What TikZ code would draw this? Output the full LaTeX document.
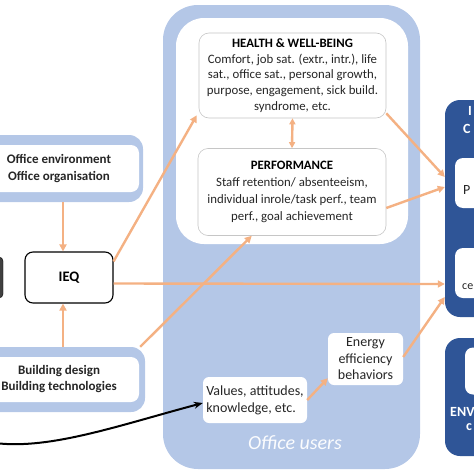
\documentclass[tikz,border=0pt]{standalone}
\usepackage{fontspec}
\setmainfont{Carlito}
\usetikzlibrary{arrows.meta}
\definecolor{lblue}{HTML}{B4C7E7}
\definecolor{dblue}{HTML}{2F5597}
\definecolor{orng}{HTML}{F4B183}
\definecolor{txt}{HTML}{262626}
\tikzset{
  container/.style={fill=lblue, draw=none, rounded corners=#1, inner sep=0pt},
  container/.default=14pt,
  whitebox/.style={fill=white, draw=none, rounded corners=#1, inner sep=0pt, text=txt},
  whitebox/.default=8pt,
  outbox/.style={fill=white, draw=gray!45, line width=0.6pt, rounded corners=10pt, inner sep=0pt, text=txt, align=center},
  darkbox/.style={fill=dblue, draw=none, rounded corners=15pt, inner sep=0pt},
  oarrow/.style={draw=orng, line width=2.4pt, -{Triangle[length=7pt,width=7pt]}},
  obiarrow/.style={draw=orng, line width=2.4pt, {Triangle[length=6pt,width=6pt]}-{Triangle[length=6pt,width=6pt]}},
  barrow/.style={draw=black, line width=2pt, -{Stealth[length=9pt,width=7pt]}},
}
\begin{document}
\begin{tikzpicture}[x=1pt,y=-1pt]
\useasboundingbox (0,0) rectangle (474,474);
\clip (0,0) rectangle (474,474);
% Office users container
\node[container=35pt, minimum width=257pt, minimum height=464pt] (users) at (291.5,237) {};
\node[whitebox=28pt, minimum width=232pt, minimum height=226pt] (inner) at (292,131) {};
\node[text=white!95!lblue, font=\fontsize{20}{24}\selectfont\itshape] (userslbl) at (295,443) {Office users};
% HWB
\node[outbox, minimum width=187pt, minimum height=85pt, font=\fontsize{12.8}{15.8}\selectfont] (hwb) at (292.5,75.5)
 {\textbf{\color{black}HEALTH \& WELL-BEING}\\Comfort, job sat. (extr., intr.), life\\sat., office sat., personal growth,\\purpose, engagement, sick build.\\syndrome, etc.};
% PERF
\node[outbox, minimum width=188pt, minimum height=87pt, font=\fontsize{12.8}{17}\selectfont] (perf) at (292,192)
 {\textbf{\color{black}PERFORMANCE}\\Staff retention/ absenteeism,\\individual inrole/task perf., team\\perf., goal achievement};
% Values & Energy
\node[whitebox=6pt, minimum width=104pt, minimum height=46pt, align=left, font=\fontsize{14}{17}\selectfont] (values) at (255,400)
 {Values, attitudes,\\knowledge, etc.};
\node[whitebox=6pt, minimum width=75pt, minimum height=52pt, align=center, font=\fontsize{14}{16.5}\selectfont] (energy) at (365.5,359)
 {Energy\\efficiency\\behaviors};
% Left side
\node[container=14pt, minimum width=170pt, minimum height=67pt] (envout) at (58,168.5) {};
\node[whitebox=8pt, minimum width=160pt, minimum height=47pt, align=center, font=\fontsize{13}{17}\selectfont\bfseries] (env) at (59,168.5)
 {Office environment\\Office organisation};
\node[container=14pt, minimum width=170pt, minimum height=65pt] (bldout) at (60,379.5) {};
\node[whitebox=8pt, minimum width=160pt, minimum height=45pt, align=center, font=\fontsize{13}{16}\selectfont\bfseries] (bld) at (59,379.5)
 {Building design\\Building technologies};
\node[fill=white, draw=black, line width=1.1pt, rounded corners=8pt, minimum width=88pt, minimum height=51pt, font=\fontsize{14.5}{16}\selectfont\bfseries] (ieq) at (69,277.5) {IEQ};
\node[fill=black!75, draw=black, rounded corners=4pt, minimum width=20pt, minimum height=41pt] (leftdark) at (-7,277.5) {};
% Right dark boxes
\node[darkbox, minimum width=80pt, minimum height=217pt] (rtop) at (485,208.5) {};
\node[whitebox=8pt, minimum width=70pt, minimum height=50pt] (pbox) at (490,183) {};
\node[whitebox=8pt, minimum width=70pt, minimum height=50pt] (cebox) at (490,273) {};
\node[anchor=west, inner sep=0pt, text=white, font=\fontsize{14}{16}\selectfont\bfseries] (rtopt1) at (468,111) {I};
\node[anchor=west, inner sep=0pt, text=white, font=\fontsize{14}{16}\selectfont\bfseries] (rtopt2) at (463,129) {C};
\node[anchor=west, inner sep=0pt, text=txt, font=\fontsize{14}{16}\selectfont] (ptext) at (463,190) {P};
\node[anchor=west, inner sep=0pt, text=txt, font=\fontsize{12}{14}\selectfont] (cetext) at (462,287) {ce};
\node[darkbox, minimum width=80pt, minimum height=118pt] (rbot) at (485,397) {};
\node[whitebox=8pt, minimum width=50pt, minimum height=47pt] (rbotin) at (490,371) {};
\node[anchor=west, inner sep=0pt, text=white, font=\fontsize{14}{16}\selectfont\bfseries] (rbott1) at (450,412) {ENV};
\node[anchor=west, inner sep=0pt, text=white, font=\fontsize{14}{16}\selectfont\bfseries] (rbott2) at (466,427) {c};
% Connectors
\draw[oarrow] ([xshift=-6pt]envout.south -| ieq.north) -- ([xshift=-6pt]ieq.north);
\draw[oarrow] ([xshift=-6pt]bldout.north -| ieq.south) -- ([xshift=-6pt]ieq.south);
\draw[oarrow] ([yshift=-10pt]ieq.north east) -- ([xshift=-2pt,yshift=3pt]hwb.south west);
\draw[oarrow] ([yshift=-6pt]ieq.east) -- ([yshift=-11pt]cebox.west -| rtop.west);
\draw[oarrow] ([xshift=-5pt]bldout.north east) -- ([xshift=54pt]perf.south west);
\draw[obiarrow] (hwb.south) -- (perf.north);
\draw[oarrow] ([yshift=5pt]hwb.south east) -- ([yshift=6pt]pbox.west -| rtop.west);
\draw[oarrow] ([yshift=-16pt]perf.east) -- ([yshift=-4pt]pbox.west -| rtop.west);
\draw[oarrow] (values.east) -- ([yshift=7pt]energy.south west);
\draw[oarrow] ([yshift=2pt]energy.east) -- ([yshift=-24pt]cebox.west -| rtop.west);
\coordinate (cstart) at (-5,443);
\draw[barrow] (cstart) .. controls (50,450) and (120,425) .. ([yshift=-3pt]values.west);
\end{tikzpicture}
\end{document}
